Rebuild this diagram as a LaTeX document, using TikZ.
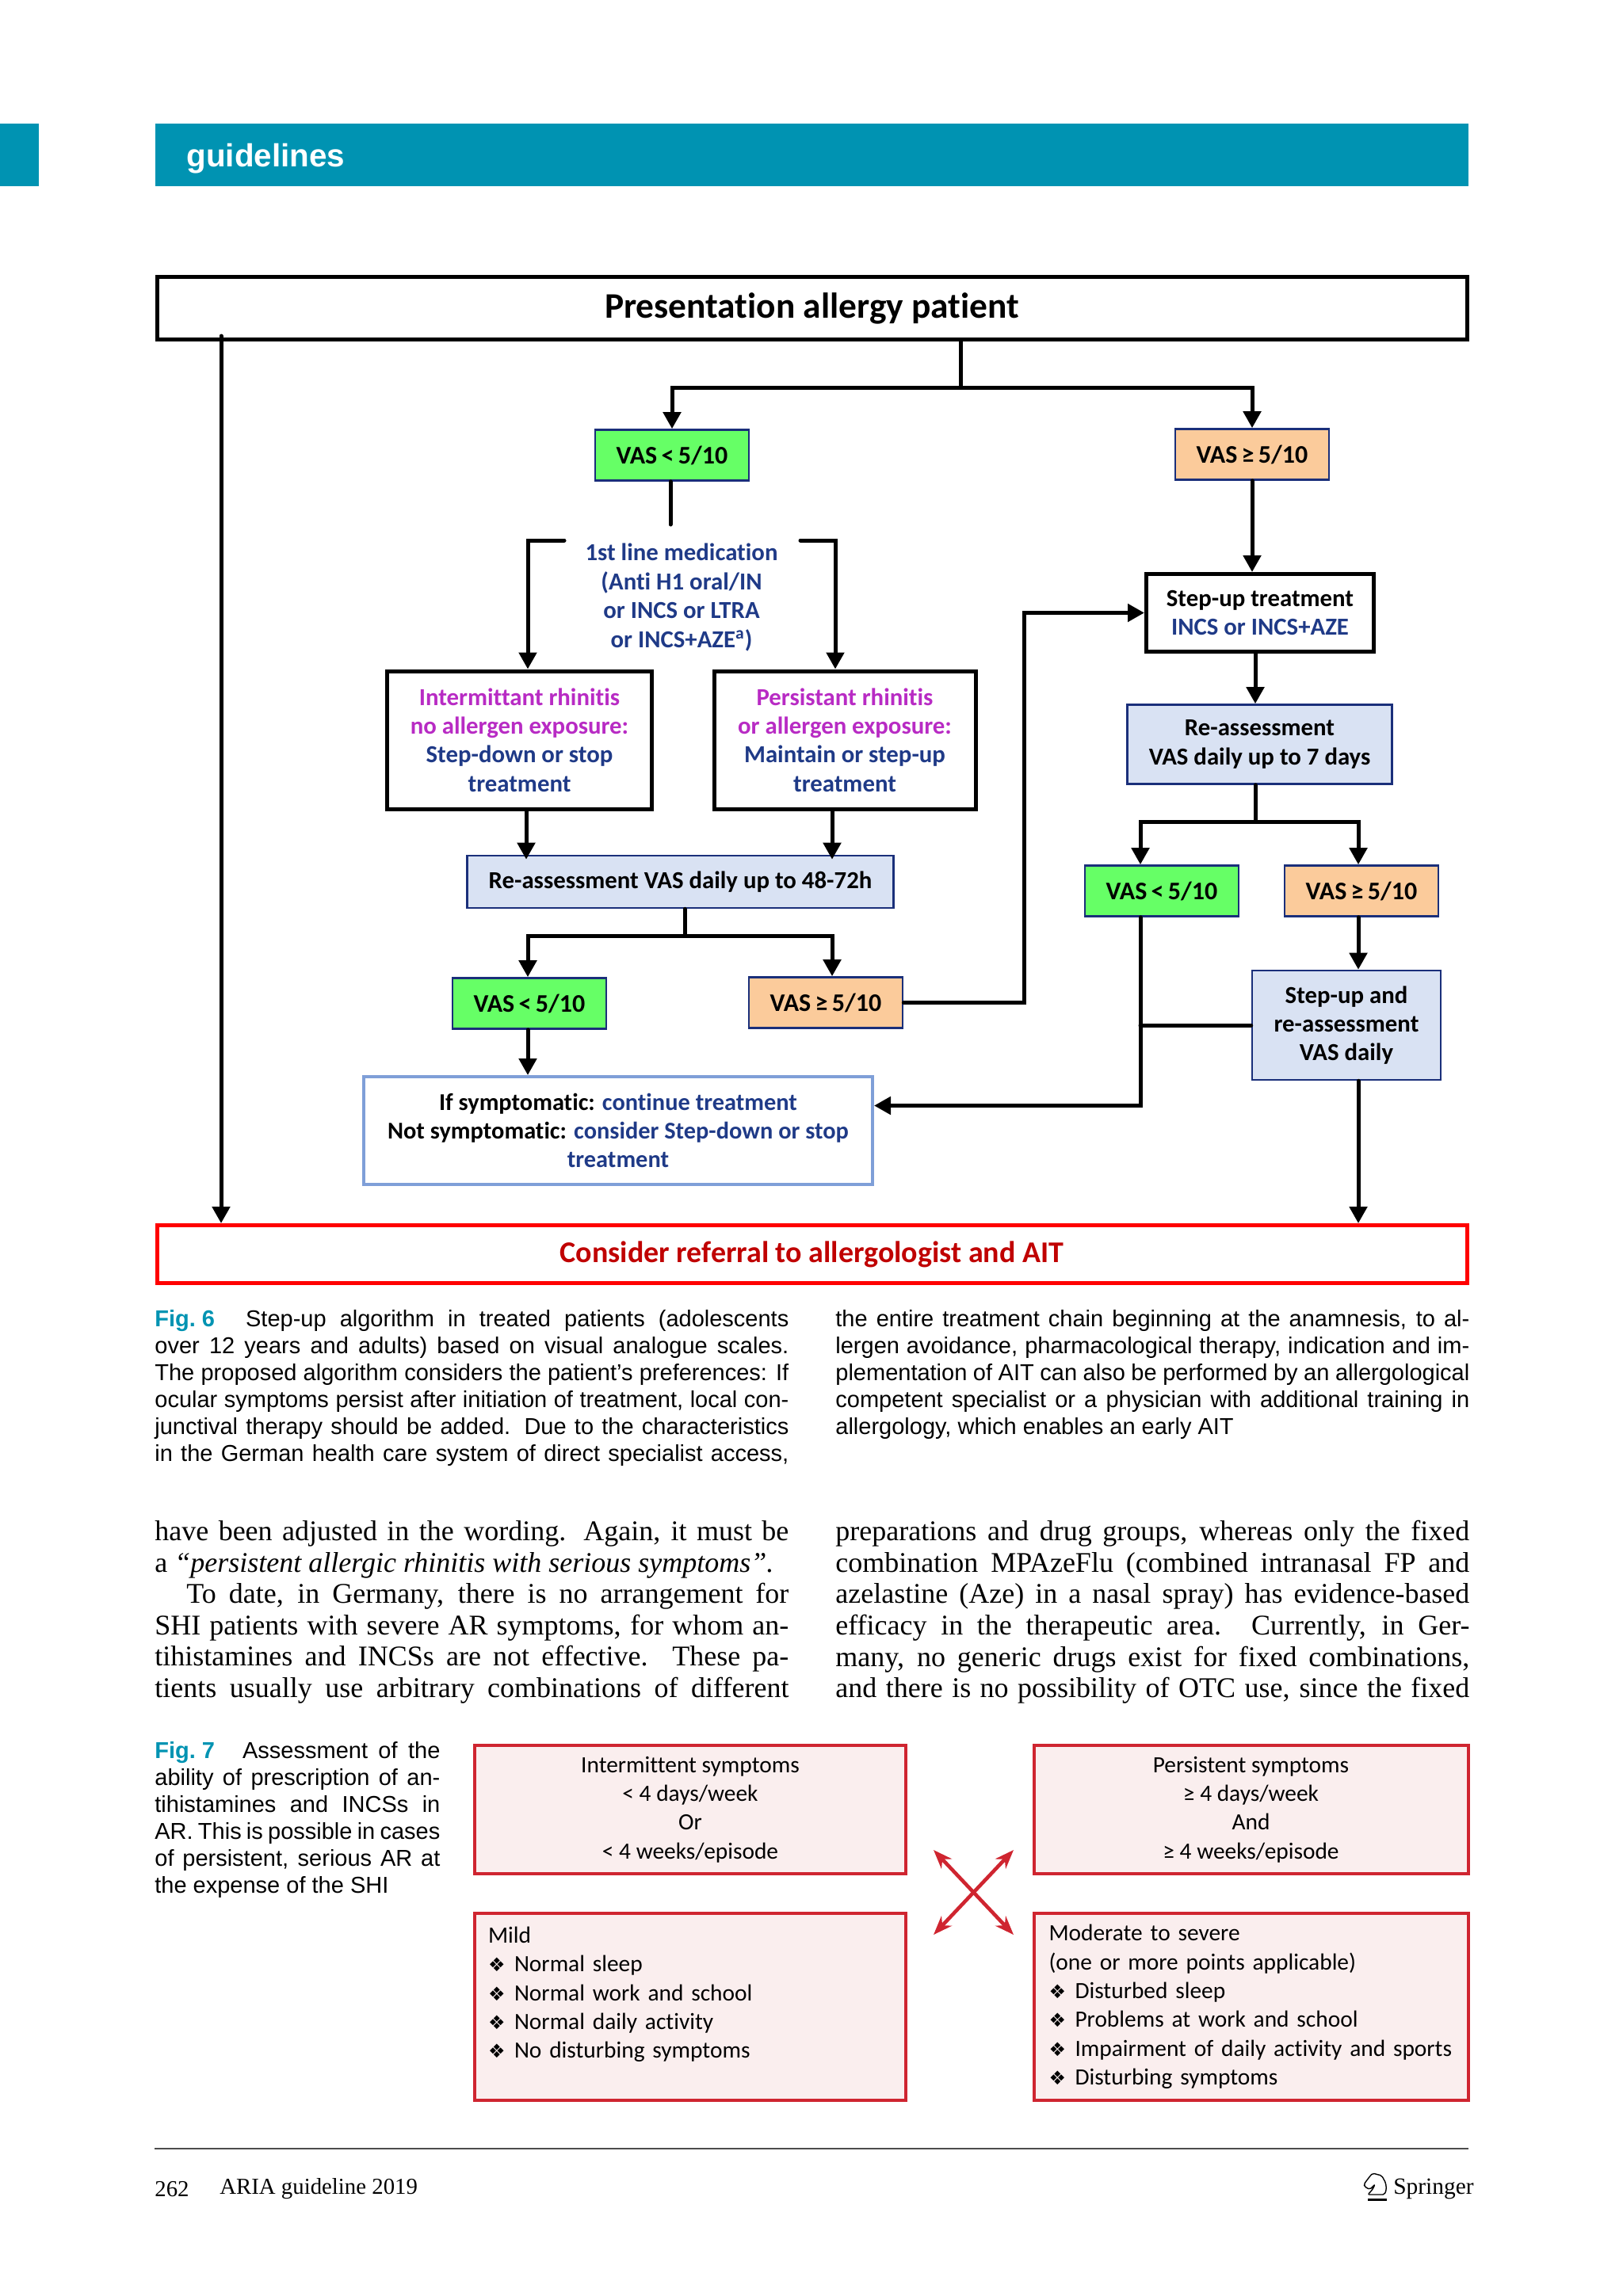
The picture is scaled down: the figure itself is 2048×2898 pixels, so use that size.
\documentclass[tikz,border=0pt]{standalone}
\usepackage{fontspec}
\usepackage{xcolor}
\usetikzlibrary{arrows.meta}
\setmainfont{Liberation Serif}
\setsansfont{Liberation Sans}
\newfontfamily\chartfont[Ligatures=NoCommon]{Carlito}
\newfontfamily\symbfont{DejaVu Sans}

\definecolor{headTeal}{HTML}{0093B2}
\definecolor{vasGreen}{HTML}{66FF66}
\definecolor{vasOrange}{HTML}{FBCB9B}
\definecolor{paleBlue}{HTML}{D9E2F3}
\definecolor{navyEdge}{HTML}{1A2F7A}
\definecolor{navyText}{HTML}{1F3A87}
\definecolor{plumText}{HTML}{B82BC4}
\definecolor{softBlue}{HTML}{7F9FD8}
\definecolor{paleRose}{HTML}{FAEEEE}
\definecolor{roseEdge}{HTML}{CF2530}
\definecolor{alertRed}{HTML}{C00000}

\newcommand{\fitline}[2][400pt]{\makebox[#1][s]{#2}}
\newcommand{\figtag}[1]{\mbox{\textcolor{headTeal}{\textbf{Fig.\ #1}}}}
\newcommand{\dia}{\makebox[16.5pt][l]{\symbfont\fontsize{12}{12}\selectfont ❖}}

\tikzset{
    chart/.style={font=\chartfont\bfseries\fontsize{15.4}{18.2}\selectfont, align=center},
    blackbox/.style={chart, draw=black, line width=2.5pt, fill=white},
    vasbox/.style={chart, font=\chartfont\bfseries\fontsize{16}{18.2}\selectfont, draw=navyEdge, line width=1.3pt, minimum width=97pt, minimum height=32pt},
    lowbox/.style={vasbox, fill=vasGreen},
    highbox/.style={vasbox, fill=vasOrange},
    checkbox/.style={chart, draw=navyEdge, line width=1.3pt, fill=paleBlue},
    rosebox/.style={draw=roseEdge, line width=2pt, fill=paleRose, minimum width=272pt,
        font=\chartfont\fontsize{14.7}{18.2}\selectfont},
    link/.style={line width=2.5pt, line cap=round},
    flow/.style={link, -{Triangle[length=10.5pt, width=11pt]}},
    capnote/.style={font=\sffamily\fontsize{14.5}{17}\selectfont, align=left, anchor=north west, inner sep=0pt},
    bodynote/.style={font=\fontsize{18}{19.8}\selectfont, align=left, anchor=north west, inner sep=0pt},
    crossarrow/.style={draw=roseEdge, line width=2.3pt, {Stealth[length=12pt, width=9pt]}-{Stealth[length=12pt, width=9pt]}}
}

\begin{document}
\begin{tikzpicture}[x=0.5pt, y=-0.5pt]
    \useasboundingbox (0,0) rectangle (2048,2898);

    % page head
    \node[fill=headTeal, minimum width=24.5pt, minimum height=39.5pt, inner sep=0pt] (headTab) at (24.5,195.5) {};
    \node[fill=headTeal, minimum width=828.5pt, minimum height=39.5pt, inner sep=0pt] (headBar) at (1024.5,195.5) {};
    \node[anchor=west, inner sep=0pt, text=white, font=\sffamily\bfseries\fontsize{20.2}{24}\selectfont] (headText) at (235,200) {guidelines};

    % algorithm boxes
    \node[blackbox, minimum width=826.5pt, minimum height=39.5pt, font=\chartfont\bfseries\fontsize{22.7}{24}\selectfont] (presentation) at (1024.5,389) {Presentation allergy patient};
    \node[lowbox] (vasLow) at (848,574.5) {VAS\,<\,5/10};
    \node[highbox] (vasHigh) at (1580,573.5) {VAS\,≥\,5/10};
    \node[chart, text=navyText] (firstLine) at (860,754) {1st line medication\\(Anti H1 oral/IN\\or INCS or LTRA\\or INCS+AZE\textsuperscript{a})};
    \node[blackbox, minimum width=167pt, minimum height=87pt] (interRhin) at (655.5,934) {\textcolor{plumText}{Intermittant rhinitis}\\\textcolor{plumText}{no allergen exposure:}\\\textcolor{navyText}{Step-down or stop}\\\textcolor{navyText}{treatment}};
    \node[blackbox, minimum width=165pt, minimum height=87pt] (persRhin) at (1066,934) {\textcolor{plumText}{Persistant rhinitis}\\\textcolor{plumText}{or allergen exposure:}\\\textcolor{navyText}{Maintain or step-up}\\\textcolor{navyText}{treatment}};
    \node[checkbox, minimum width=269pt, minimum height=33pt] (reassessA) at (858.5,1113) {Re-assessment VAS daily up to 48-72h};
    \node[lowbox] (vasLowB) at (668,1266.5) {VAS\,<\,5/10};
    \node[highbox] (vasHighB) at (1042,1265.5) {VAS\,≥\,5/10};
    \node[draw=softBlue, line width=2pt, chart, font=\chartfont\bfseries\fontsize{15.2}{18.2}\selectfont, minimum width=321pt, minimum height=68pt] (advice) at (780,1427) {If symptomatic: \textcolor{navyText}{continue treatment}\\Not symptomatic: \textcolor{navyText}{consider Step-down or stop}\\\textcolor{navyText}{treatment}};
    \node[blackbox, minimum width=143.5pt, minimum height=49pt] (stepUp) at (1590,773.5) {Step-up treatment\\\textcolor{navyText}{INCS or INCS+AZE}};
    \node[checkbox, minimum width=167pt, minimum height=50pt] (reassessB) at (1589.5,939.5) {Re-assessment\\VAS daily up to 7 days};
    \node[lowbox] (vasLowC) at (1466,1124.5) {VAS\,<\,5/10};
    \node[highbox] (vasHighC) at (1718,1124.5) {VAS\,≥\,5/10};
    \node[checkbox, minimum width=119pt, minimum height=69pt] (stepReassess) at (1699,1294) {Step-up and\\re-assessment\\VAS daily};
    \node[blackbox, draw=red, minimum width=826.5pt, minimum height=36.5pt, text=alertRed, font=\chartfont\bfseries\fontsize{19}{22}\selectfont] (referral) at (1024.5,1583) {Consider referral to allergologist and AIT};

    % turning points
    \coordinate (topSplit) at (1212,489);
    \coordinate (leftDrop) at (279,424);
    \coordinate (medStop) at (846,662);
    \coordinate (medLeft) at (712,682);
    \coordinate (leftFall) at (666,682);
    \coordinate (medRight) at (1010,682);
    \coordinate (rightFall) at (1054,682);
    \coordinate (arrowLeft) at (664,1030);
    \coordinate (arrowRight) at (1050,1030);
    \coordinate (midSplit) at (864,1181);
    \coordinate (midLeft) at (666,1181);
    \coordinate (midRight) at (1050,1181);
    \coordinate (upRoute) at (1292,1000);
    \coordinate (rightSpine) at (1584,1037);
    \coordinate (spineLeft) at (1439,1037);
    \coordinate (spineRight) at (1714,1037);
    \coordinate (lowDrop) at (1439,1395.5);

    % connectors
    \draw[link] (presentation.south -| topSplit) -- (topSplit);
    \draw[flow] (topSplit) -| (vasLow.north);
    \draw[flow] (topSplit) -| (vasHigh.north);
    \draw[flow] (leftDrop) -- (leftDrop |- referral.north);
    \draw[link] (vasLow.south -| medStop) -- (medStop);
    \draw[flow] (medLeft) -- (leftFall) -- (leftFall |- interRhin.north);
    \draw[flow] (medRight) -- (rightFall) -- (rightFall |- persRhin.north);
    \draw[flow, shorten >=-3pt] (interRhin.south -| arrowLeft) -- (reassessA.north -| arrowLeft);
    \draw[flow, shorten >=-3pt] (persRhin.south -| arrowRight) -- (reassessA.north -| arrowRight);
    \draw[link] (reassessA.south -| midSplit) -- (midSplit);
    \draw[flow] (midSplit) -- (midLeft) -- (midLeft |- vasLowB.north);
    \draw[flow] (midSplit) -- (midRight) -- (midRight |- vasHighB.north);
    \draw[flow] (vasLowB.south -| midLeft) -- (advice.north -| midLeft);
    \draw[link] (vasHighB.east) -- (upRoute |- vasHighB.east) -- (upRoute);
    \draw[flow] (upRoute) -- (upRoute |- stepUp.west) -- (stepUp.west);
    \draw[flow] (vasHigh.south) -- (stepUp.north -| vasHigh.south);
    \draw[flow] (stepUp.south -| rightSpine) -- (reassessB.north -| rightSpine);
    \draw[link] (reassessB.south -| rightSpine) -- (rightSpine);
    \draw[flow] (rightSpine) -- (spineLeft) -- (spineLeft |- vasLowC.north);
    \draw[flow] (rightSpine) -- (spineRight) -- (spineRight |- vasHighC.north);
    \draw[flow] (vasHighC.south -| spineRight) -- (stepReassess.north -| spineRight);
    \draw[flow] (stepReassess.south -| spineRight) -- (referral.north -| spineRight);
    \draw[flow] (vasLowC.south -| lowDrop) -- (lowDrop) -- (lowDrop -| advice.east);
    \draw[link] (stepReassess.west) -- (stepReassess.west -| lowDrop);

    % captions and running text
    \node[capnote] (capSixA) at (195,1653) {\fitline{\figtag{6}\hspace{19.5pt}Step-up algorithm in treated patients (adolescents}\\
        \fitline{over 12 years and adults) based on visual analogue scales.}\\
        \fitline{The proposed algorithm considers the patient’s preferences: If}\\
        \fitline{ocular symptoms persist after initiation of treatment, local con-}\\
        \fitline{junctival therapy should be added. Due to the characteristics}\\
        \fitline{in the German health care system of direct specialist access,}};
    \node[capnote] (capSixB) at (1054,1653) {\fitline{the entire treatment chain beginning at the anamnesis, to al-}\\
        \fitline{lergen avoidance, pharmacological therapy, indication and im-}\\
        \fitline{plementation of AIT can also be performed by an allergological}\\
        \fitline{competent specialist or a physician with additional training in}\\
        allergology, which enables an early AIT};
    \node[bodynote] (bodyLeft) at (195,1919) {\fitline{have been adjusted in the wording. Again, it must be}\\
        a \textit{“persistent allergic rhinitis with serious symptoms”.}\\
        \fitline{\hspace{20pt}To date, in Germany, there is no arrangement for}\\
        \fitline{SHI patients with severe AR symptoms, for whom an-}\\
        \fitline{tihistamines and INCSs are not effective. These pa-}\\
        \fitline{tients usually use arbitrary combinations of different}};
    \node[bodynote] (bodyRight) at (1054,1919) {\fitline{preparations and drug groups, whereas only the fixed}\\
        \fitline{combination MPAzeFlu (combined intranasal FP and}\\
        \fitline{azelastine (Aze) in a nasal spray) has evidence-based}\\
        \fitline{efficacy in the therapeutic area. Currently, in Ger-}\\
        \fitline{many, no generic drugs exist for fixed combinations,}\\
        \fitline{and there is no possibility of OTC use, since the fixed}};
    \node[capnote] (capSeven) at (195,2198) {\fitline[180pt]{\figtag{7}\hspace{17.5pt}Assessment of the}\\
        \fitline[180pt]{ability of prescription of an-}\\
        \fitline[180pt]{tihistamines and INCSs in}\\
        \fitline[180pt]{AR. This is possible in cases}\\
        \fitline[180pt]{of persistent, serious AR at}\\
        the expense of the SHI};

    % symptom boxes
    \node[rosebox, minimum height=81pt, align=center] (interSym) at (871,2284) {Intermittent symptoms\\< 4 days/week\\Or\\< 4 weeks/episode};
    \node[rosebox, minimum width=274pt, minimum height=81pt, align=center] (persSym) at (1578.5,2284) {Persistent symptoms\\≥ 4 days/week\\And\\≥ 4 weeks/episode};
    \node[rosebox, minimum height=118pt, text width=255pt, align=left] (mildSym) at (871,2533) {Mild\\\dia Normal sleep\\\dia Normal work and school\\\dia Normal daily activity\\\dia No disturbing symptoms\\~};
    \node[rosebox, minimum width=274pt, minimum height=118pt, text width=255pt, align=left] (modSym) at (1578.5,2533) {Moderate to severe\\(one or more points applicable)\\\dia Disturbed sleep\\\dia Problems at work and school\\\dia Impairment of daily activity and sports\\\dia Disturbing symptoms};
    \coordinate (crossTL) at (1178,2335);
    \coordinate (crossTR) at (1279,2335);
    \coordinate (crossBL) at (1178,2442);
    \coordinate (crossBR) at (1279,2442);
    \draw[crossarrow] (crossTL) -- (crossBR);
    \draw[crossarrow] (crossTR) -- (crossBL);

    % page foot
    \coordinate (footLeft) at (195,2712);
    \coordinate (footRight) at (1853,2712);
    \draw[black!70, line width=0.6pt] (footLeft) -- (footRight);
    \node[anchor=west, inner sep=0pt, font=\fontsize{14.4}{18}\selectfont] (pageNumber) at (195,2763) {262};
    \node[anchor=west, inner sep=0pt, font=\fontsize{14.4}{18}\selectfont] (runningTitle) at (277,2763) {ARIA guideline 2019};
    \node[anchor=east, inner sep=0pt, font=\fontsize{14.7}{18}\selectfont] (springerName) at (1860,2763) {Springer};
    \draw[line width=0.7pt, line join=round, rounded corners=1pt] (1732,2743) -- (1743.5,2746) -- (1748.5,2755) -- (1749.5,2763.5) -- (1747,2770) -- (1726,2770) -- (1732,2763.5) -- (1735,2757) -- (1728.5,2763.5) -- (1722,2760) -- (1721,2757) -- (1728.5,2747) -- cycle;
    \fill (1726,2775) rectangle (1749.5,2778);
\end{tikzpicture}
\end{document}
